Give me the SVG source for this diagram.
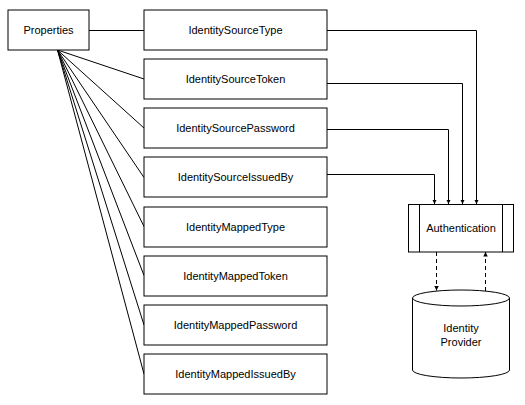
<svg xmlns="http://www.w3.org/2000/svg" width="525" height="405" viewBox="0 0 525 405">
<defs>
<style>
.box{fill:#fff;stroke:#000;stroke-width:1}
.t{font-family:"Liberation Sans",Arial,Helvetica,sans-serif;font-size:11px;fill:#000;text-anchor:middle}
.c{fill:none;stroke:#000;stroke-width:1}
.d{fill:none;stroke:#000;stroke-width:1;stroke-dasharray:4 3}
</style>
<marker id="ah" viewBox="0 0 8 8" refX="8" refY="4" markerWidth="4.5" markerHeight="4.5" orient="auto" markerUnits="userSpaceOnUse">
<path d="M0,0 L8,4 L0,8 Z" fill="#000"/>
</marker>
</defs>
<rect width="525" height="405" fill="#fff"/>
<g id="connectors">
<line class="c" x1="89" y1="30.5" x2="144" y2="30.5"/>
<line class="c" x1="57.5" y1="50" x2="144" y2="79"/>
<line class="c" x1="57.5" y1="50" x2="144" y2="128"/>
<line class="c" x1="57.5" y1="50" x2="144" y2="177.5"/>
<line class="c" x1="57.5" y1="50" x2="144" y2="226.5"/>
<line class="c" x1="57.5" y1="50" x2="144" y2="275.5"/>
<line class="c" x1="57.5" y1="50" x2="144" y2="325"/>
<line class="c" x1="57.5" y1="50" x2="144" y2="374"/>
<polyline class="c" points="327,30.5 476.5,30.5 476.5,204" marker-end="url(#ah)"/>
<polyline class="c" points="327,83.5 462.5,83.5 462.5,204" marker-end="url(#ah)"/>
<polyline class="c" points="327,129.5 448.5,129.5 448.5,204" marker-end="url(#ah)"/>
<polyline class="c" points="327,174.5 434.5,174.5 434.5,204" marker-end="url(#ah)"/>
<line class="d" x1="436.5" y1="252" x2="436.5" y2="290.5" marker-end="url(#ah)"/>
<line class="d" x1="485.5" y1="291" x2="485.5" y2="252" marker-end="url(#ah)"/>
</g>
<g id="properties">
<rect class="box" x="8" y="10" width="81" height="40"/>
<text class="t" x="48.5" y="34">Properties</text>
</g>
<g id="identitySourceType">
<rect class="box" x="144" y="10" width="183" height="40"/>
<text class="t" x="235.5" y="34">IdentitySourceType</text>
</g>
<g id="identitySourceToken">
<rect class="box" x="144" y="59" width="183" height="40"/>
<text class="t" x="235.5" y="83">IdentitySourceToken</text>
</g>
<g id="identitySourcePassword">
<rect class="box" x="144" y="108" width="183" height="40"/>
<text class="t" x="235.5" y="132">IdentitySourcePassword</text>
</g>
<g id="identitySourceIssuedBy">
<rect class="box" x="144" y="157" width="183" height="40"/>
<text class="t" x="235.5" y="181">IdentitySourceIssuedBy</text>
</g>
<g id="identityMappedType">
<rect class="box" x="144" y="207" width="183" height="40"/>
<text class="t" x="235.5" y="230.5">IdentityMappedType</text>
</g>
<g id="identityMappedToken">
<rect class="box" x="144" y="256" width="183" height="40"/>
<text class="t" x="235.5" y="279.5">IdentityMappedToken</text>
</g>
<g id="identityMappedPassword">
<rect class="box" x="144" y="305" width="183" height="40"/>
<text class="t" x="235.5" y="329">IdentityMappedPassword</text>
</g>
<g id="identityMappedIssuedBy">
<rect class="box" x="144" y="354" width="183" height="40"/>
<text class="t" x="235.5" y="378">IdentityMappedIssuedBy</text>
</g>
<g id="authentication">
<rect class="box" x="408.5" y="204.5" width="105" height="47.5"/>
<line class="c" x1="419.5" y1="204.5" x2="419.5" y2="252"/>
<line class="c" x1="502.5" y1="204.5" x2="502.5" y2="252"/>
<text class="t" x="461" y="232">Authentication</text>
</g>
<g id="identityProvider">
<path class="box" d="M412.5,298 A48.5,8 0 0 1 509.5,298 L509.5,370 A48.5,8 0 0 1 412.5,370 Z"/>
<path class="c" d="M412.5,298 A48.5,8 0 0 0 509.5,298"/>
<text class="t" x="461" y="332">Identity</text>
<text class="t" x="461" y="346">Provider</text>
</g>
</svg>
